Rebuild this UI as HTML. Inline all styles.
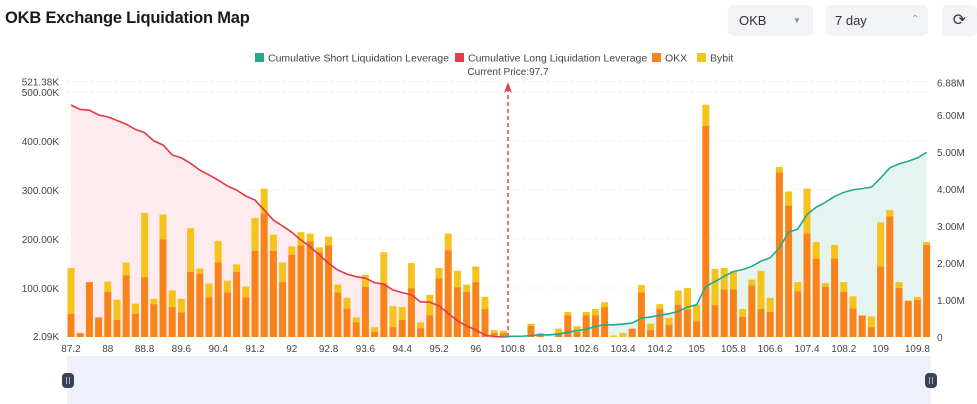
<!DOCTYPE html>
<html><head><meta charset="utf-8">
<style>
body{margin:0;width:977px;height:404px;background:#fff;font-family:"Liberation Sans",sans-serif;overflow:hidden;position:relative}
.title{position:absolute;left:5px;top:9px;font-size:16.5px;font-weight:bold;color:#1a1a1a;letter-spacing:-0.2px}
.sel{position:absolute;top:5px;height:31px;background:#f1f3f6;border-radius:5px;font-size:13px;color:#333;line-height:31px}
</style></head><body>
<div class="title">OKB Exchange Liquidation Map</div>
<div class="sel" style="left:728px;width:85px"><span style="margin-left:11px">OKB</span><span style="position:absolute;left:65px;top:0;font-size:8px;color:#888">▼</span></div>
<div class="sel" style="left:826px;width:102px"><span style="margin-left:9px">7 day</span><span style="position:absolute;left:85px;top:-1px;font-size:10px;color:#999">⌃</span></div>
<div class="sel" style="left:942px;width:35px;text-align:center;font-size:16px">⟳</div>
<svg id="chart" width="977" height="404" style="position:absolute;left:0;top:0"></svg>
<script>
const labels=["87.2","88","88.8","89.6","90.4","91.2","92","92.8","93.6","94.4","95.2","96","100.8","101.8","102.6","103.4","104.2","105","105.8","106.6","107.4","108.2","109","109.8"];
const totalK=[141,8,112,40,113,76,152,68,253,78,250,95,78,222,140,109,196,115,148,103,243,303,209,152,185,214,211,183,205,107,80,40,127,20,173,63,61,151,30,86,141,211,135,107,144,82,14,13,3,0,27,8,0,17,51,22,51,57,71,3,8,17,106,27,67,39,95,100,66,474,139,141,134,57,117,135,80,347,297,112,303,194,110,188,112,83,44,42,234,259,112,74,82,194];
const okxK=[47,8,112,40,92,35,126,47,122,67,199,61,50,133,129,81,152,91,133,81,176,252,176,112,168,187,195,173,187,91,58,30,102,10,110,20,35,99,18,44,120,177,101,92,112,57,8,8,3,0,23,4,0,8,44,10,44,44,61,0,0,17,91,14,57,25,66,56,32,431,65,97,97,41,105,57,51,336,268,93,211,160,102,160,92,58,44,20,144,246,100,74,76,188];
const longM=[6.27,6.15,6.13,6.0,5.95,5.85,5.75,5.61,5.52,5.30,5.19,4.92,4.84,4.69,4.51,4.38,4.24,4.08,3.97,3.81,3.70,3.43,3.16,3.0,2.83,2.62,2.44,2.22,1.99,1.81,1.70,1.63,1.59,1.47,1.43,1.27,1.20,1.14,0.95,0.94,0.84,0.64,0.44,0.30,0.19,0.05,0.01,0];
const shortM=[0,0.02,0.02,0.04,0.06,0.06,0.08,0.13,0.17,0.21,0.29,0.33,0.33,0.35,0.38,0.51,0.54,0.59,0.63,0.69,0.81,0.87,1.37,1.50,1.64,1.77,1.82,1.91,2.05,2.14,2.41,2.83,2.92,3.31,3.51,3.64,3.80,3.91,3.98,4.01,4.05,4.30,4.57,4.68,4.75,4.84,4.99];
const shortStart=47;
const leftTicks=[[2.09,"2.09K"],[100,"100.00K"],[200,"200.00K"],[300,"300.00K"],[400,"400.00K"],[500,"500.00K"],[521.38,"521.38K"]];
const rightTicks=[[0,"0"],[1,"1.00M"],[2,"2.00M"],[3,"3.00M"],[4,"4.00M"],[5,"5.00M"],[6,"6.00M"],[6.88,"6.88M"]];
const currentIdx=47.5, currentLabel="Current Price:97.7";

const NS="http://www.w3.org/2000/svg", svg=document.getElementById('chart');
const X0=66.4, PITCH=9.2, Y0=337;
const xc=i=>X0+PITCH*(i+0.5);
const yL=v=>Y0-v*0.49;
const yR=v=>Y0-v*37;
function mk(t,a,p){const e=document.createElementNS(NS,t);for(const k in a)e.setAttribute(k,a[k]);(p||svg).appendChild(e);return e;}
for(const t of leftTicks){const g=mk('line',{x1:X0,x2:X0+PITCH*94,y1:yL(t[0]),y2:yL(t[0]),stroke:'#f0f0f0','stroke-dasharray':'3,3'});


const tx=mk('text',{x:59,y:yL(t[0])+4,'text-anchor':'end','font-size':10,fill:'#444'});tx.textContent=t[1];

}
for(const t of rightTicks){const tx=mk('text',{x:937,y:yR(t[0])+4,'font-size':10,fill:'#444'});tx.textContent=t[1];

}
let d='M'+xc(0)+','+Y0;longM.forEach((v,i)=>d+=' L'+xc(i)+','+yR(v));d+=' L'+xc(longM.length-1)+','+Y0+'Z';
const la=mk('path',{d:d,fill:'#fde6e8',opacity:0.8});


d='M'+xc(shortStart)+','+Y0;shortM.forEach((v,i)=>d+=' L'+xc(shortStart+i)+','+yR(v));d+=' L'+xc(shortStart+shortM.length-1)+','+Y0+'Z';
const sa=mk('path',{d:d,fill:'#e3f3ef',opacity:0.9});


totalK.forEach((v,i)=>{const w=7,x=xc(i)-w/2,o=okxK[i];
if(v>o){const b=mk('rect',{x:x,y:yL(v),width:w,height:yL(o)-yL(v),fill:'#f6c21c'});

}
if(o>0){const b=mk('rect',{x:x,y:yL(o),width:w,height:Y0-yL(o),fill:'#f7831a'});

}});
const lp=mk('polyline',{points:longM.map((v,i)=>xc(i)+','+yR(v)).join(' '),fill:'none',stroke:'#e23a46','stroke-width':1.6});


const sp=mk('polyline',{points:shortM.map((v,i)=>xc(shortStart+i)+','+yR(v)).join(' '),fill:'none',stroke:'#26a98b','stroke-width':1.6});


const cx=xc(currentIdx-0.5)+PITCH/2;
const cl=mk('line',{x1:cx,x2:cx,y1:Y0,y2:88,stroke:'#e5404a','stroke-width':1.5,'stroke-dasharray':'4,3'});


const ca=mk('path',{d:`M${cx-4},93 L${cx},82 L${cx+4},93 L${cx},90Z`,fill:'#e5404a'});


const ct=mk('text',{x:cx,y:75,'text-anchor':'middle','font-size':10,fill:'#444'});ct.textContent=currentLabel;


labels.forEach((l,k)=>{const t=mk('text',{x:xc(k*4),y:352,'text-anchor':'middle','font-size':10,fill:'#444'});t.textContent=l;

});
const leg=[[255,'#26a98b','Cumulative Short Liquidation Leverage'],[455,'#e5404a','Cumulative Long Liquidation Leverage'],[652,'#f7831a','OKX'],[697,'#f6c21c','Bybit']];
leg.forEach(g=>{const r=mk('rect',{x:g[0],y:53,width:9,height:9,fill:g[1]});


const t=mk('text',{x:g[0]+13,y:61.5,'font-size':10.5,fill:'#444'});t.textContent=g[2];

});
const sl=mk('rect',{x:67,y:356,width:864,height:48,fill:'#eef1fb'});


[68,931].forEach(x=>{const h=mk('rect',{x:x-6,y:373,width:12,height:15,rx:4,fill:'#3a4256'});


mk('line',{x1:x-1.5,x2:x-1.5,y1:377,y2:384,stroke:'#ccc','stroke-width':0.8});mk('line',{x1:x+1.5,x2:x+1.5,y1:377,y2:384,stroke:'#ccc','stroke-width':0.8});});
</script>
</body></html>
